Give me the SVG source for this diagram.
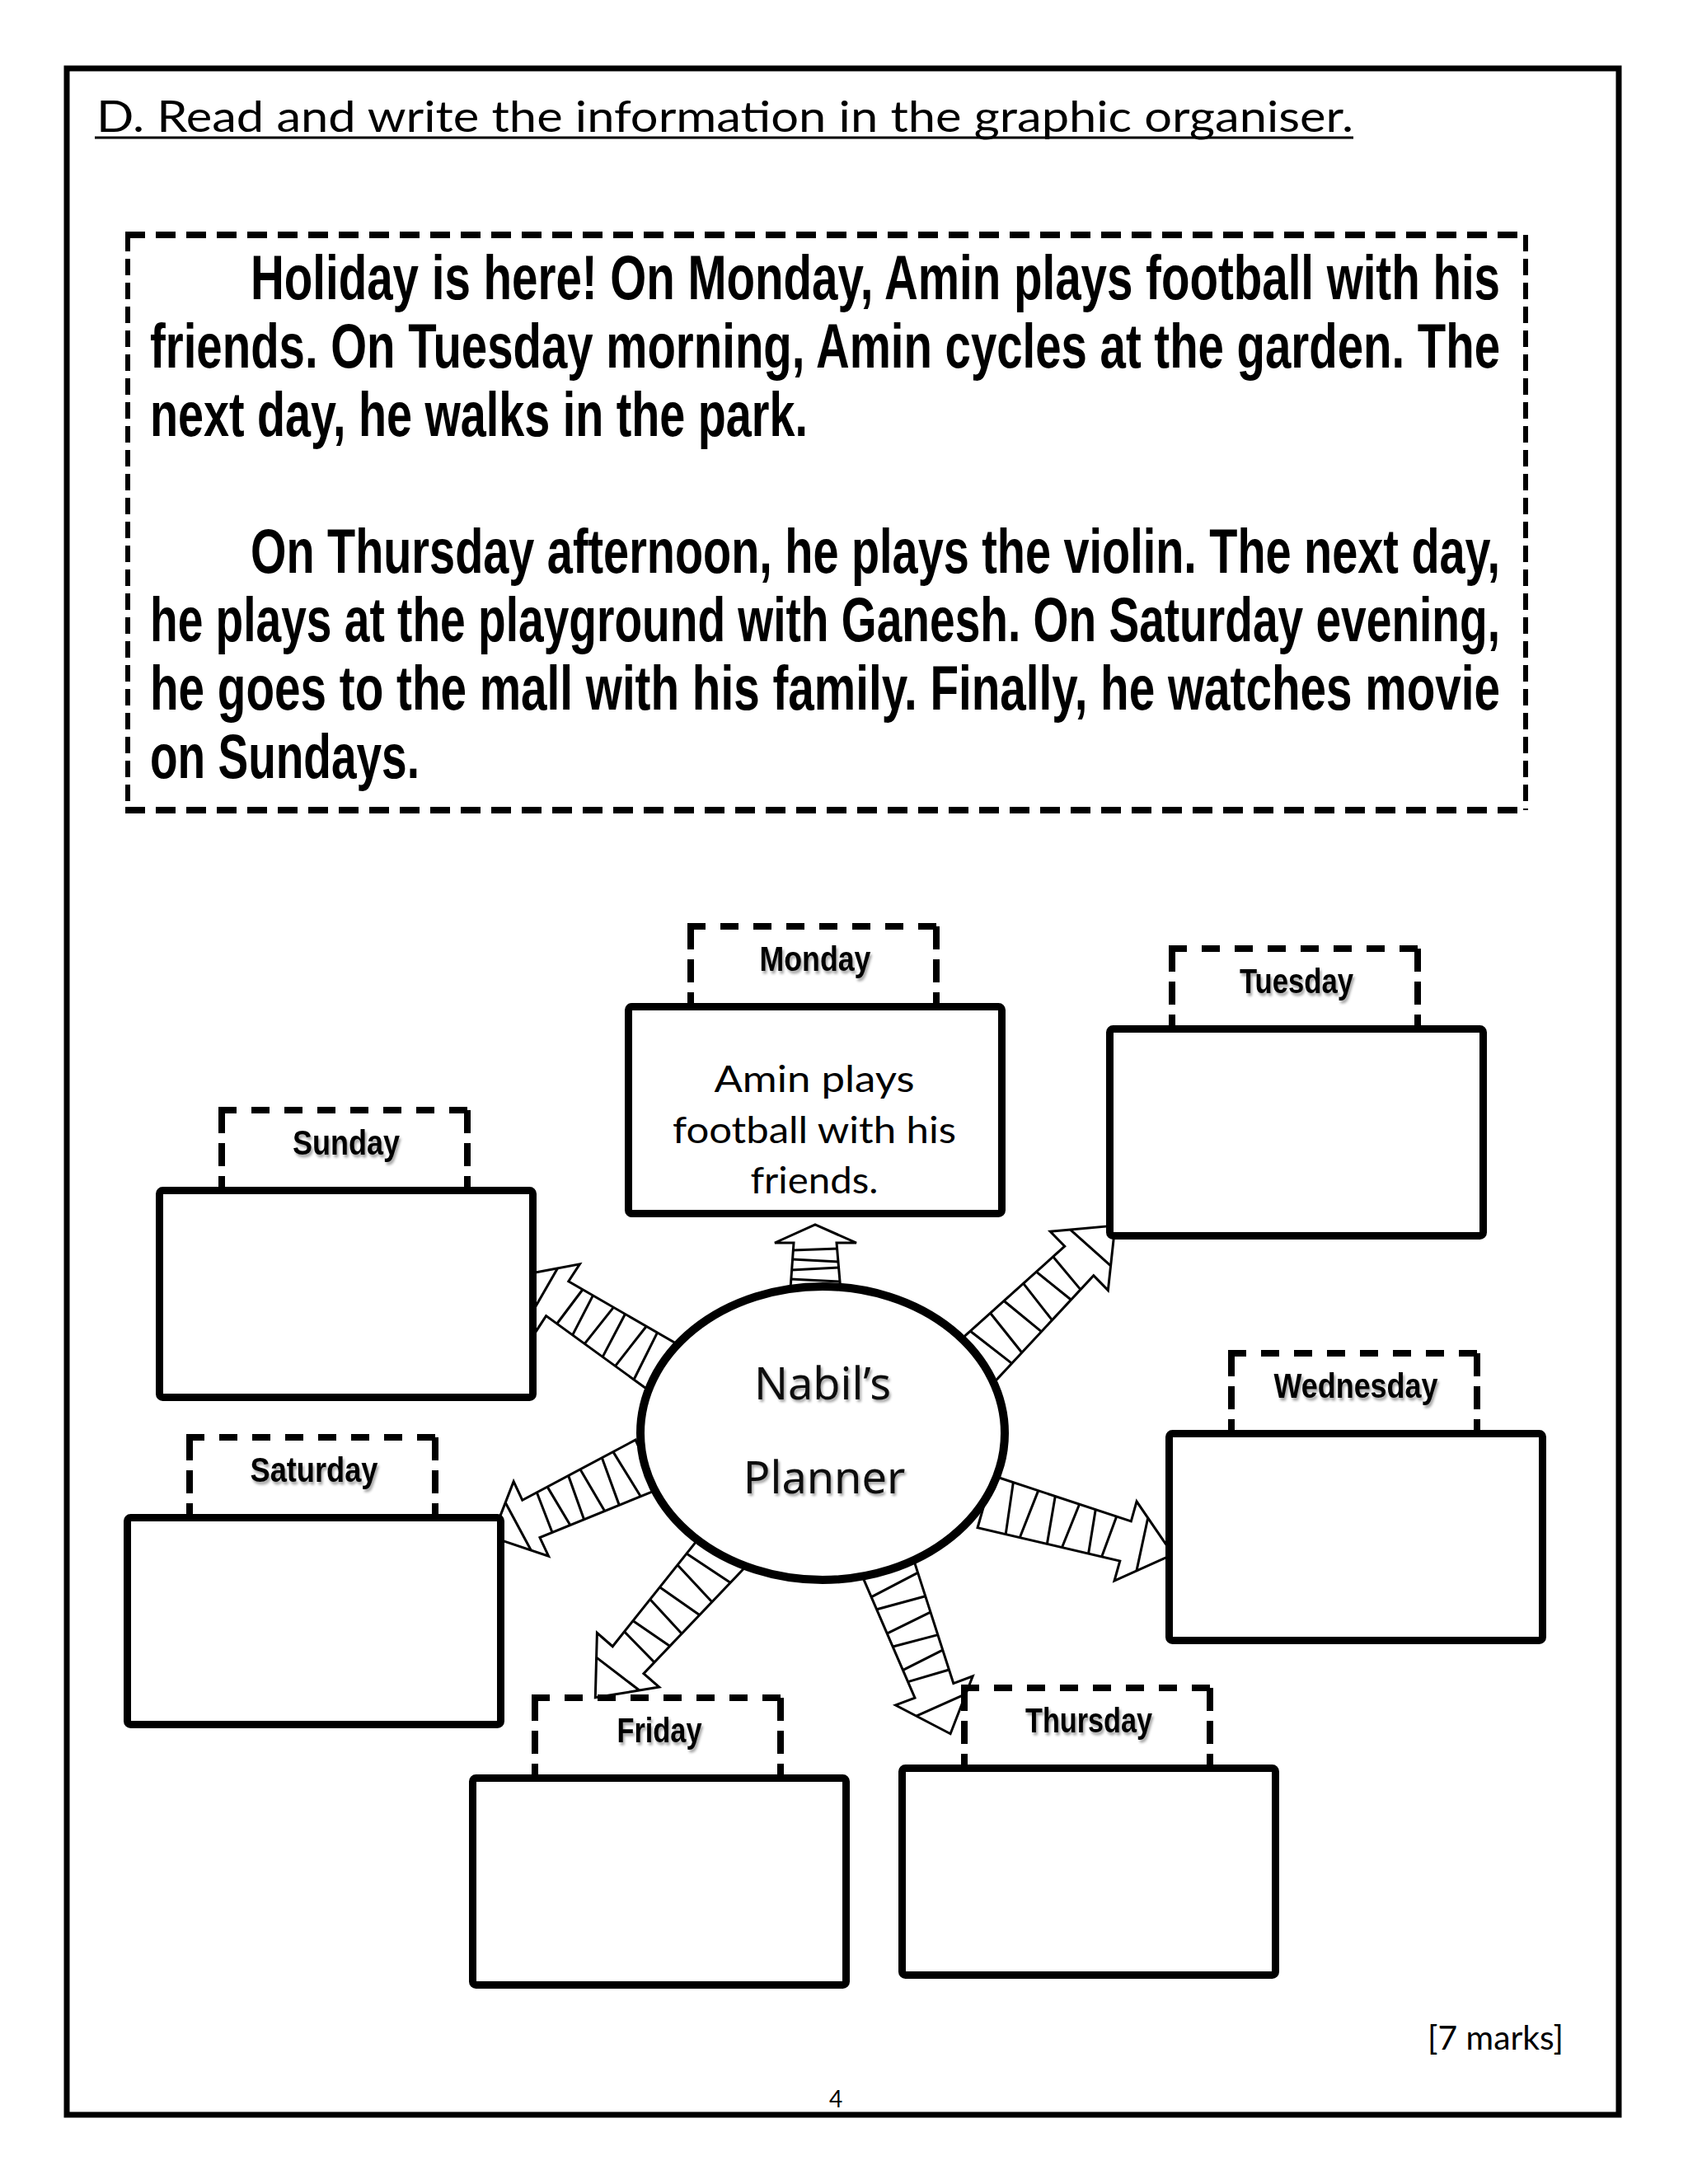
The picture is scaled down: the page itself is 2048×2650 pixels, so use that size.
<svg xmlns="http://www.w3.org/2000/svg" xmlns:xlink="http://www.w3.org/1999/xlink" width="2048" height="2650" viewBox="0 0 2048 2650">
<defs>
<style>
.para{font-family:"Liberation Sans",Arial,sans-serif;font-weight:bold;font-size:56px;fill:#000}
.goth{font-family:Lato,"Noto Sans",sans-serif;fill:#000}
.day{font-family:"Liberation Sans",Arial,sans-serif;font-weight:bold;font-size:36px;fill:#000;text-anchor:middle;filter:url(#sh)}
.ctr{font-family:"Noto Sans","Open Sans",sans-serif;font-size:54px;fill:#111;text-anchor:middle;filter:url(#sh)}
.box{fill:#fff;stroke:#000;stroke-width:9;stroke-linejoin:round}
.lt{fill:none;stroke:#000;stroke-width:8;stroke-dasharray:22 18}
.ls{fill:none;stroke:#000;stroke-width:8;stroke-dasharray:28 12}
.arr{fill:#fff;stroke:#000;stroke-width:3;stroke-linejoin:miter;vector-effect:non-scaling-stroke}
.hat{fill:none;stroke:#000;stroke-width:3;vector-effect:non-scaling-stroke}
</style>
<filter id="sh" x="-10%" y="-20%" width="130%" height="150%">
<feDropShadow dx="2" dy="3" stdDeviation="1.5" flood-color="#000" flood-opacity="0.35"/>
</filter>
<g id="arrow">
<polygon class="arr" points="0,-33 172,-25 172,-50 230,0 172,50 172,25 0,33"/>
<path class="hat" d="M26,-31.6 L34,31.6 M57,-30.4 L51,30.4 M78,-29.3 L84,29.3 M108,-28.1 L102,28.1 M128,-27 L134,27 M154,-25.9 L150,25.9 M190,-34.5 L194,31"/>
</g>
</defs>
<rect width="2048" height="2650" fill="#fff"/>
<rect x="81" y="83" width="1883" height="2483" fill="none" stroke="#000" stroke-width="7"/>

<g id="title">
<text class="goth" x="117" y="160" font-size="52" textLength="1525" lengthAdjust="spacingAndGlyphs">D. Read and write the information in the graphic organiser.</text>
<line x1="115" y1="167" x2="1642" y2="167" stroke="#000" stroke-width="3"/>
</g>

<g id="passage">
<path d="M152,285 H1854 M152,983 H1854" fill="none" stroke="#000" stroke-width="8" stroke-dasharray="24 13"/>
<path d="M155,285 V983 M1851,285 V983" fill="none" stroke="#000" stroke-width="6" stroke-dasharray="20 9"/>
<text class="para" transform="translate(304,363) scale(1,1.35)" x="0" y="0" textLength="1516" lengthAdjust="spacingAndGlyphs">Holiday is here! On Monday, Amin plays football with his</text>
<text class="para" transform="translate(182,446) scale(1,1.35)" x="0" y="0" textLength="1638" lengthAdjust="spacingAndGlyphs">friends. On Tuesday morning, Amin cycles at the garden. The</text>
<text class="para" transform="translate(182,529) scale(1,1.35)" x="0" y="0" textLength="798" lengthAdjust="spacingAndGlyphs">next day, he walks in the park.</text>
<text class="para" transform="translate(304,695) scale(1,1.35)" x="0" y="0" textLength="1516" lengthAdjust="spacingAndGlyphs">On Thursday afternoon, he plays the violin. The next day,</text>
<text class="para" transform="translate(182,778) scale(1,1.35)" x="0" y="0" textLength="1638" lengthAdjust="spacingAndGlyphs">he plays at the playground with Ganesh. On Saturday evening,</text>
<text class="para" transform="translate(182,861) scale(1,1.35)" x="0" y="0" textLength="1638" lengthAdjust="spacingAndGlyphs">he goes to the mall with his family. Finally, he watches movie</text>
<text class="para" transform="translate(182,944) scale(1,1.35)" x="0" y="0" textLength="327" lengthAdjust="spacingAndGlyphs">on Sundays.</text>
</g>

<g id="connectors">
<g id="arrow-monday">
<polygon class="arr" points="958,1578 963,1508 940,1508 989,1486 1039,1508 1015,1508 1021,1578"/>
<path class="hat" d="M962,1517 L1017,1515 M961,1528 L1018,1531 M960,1541 L1019,1538 M959,1552 L1019,1555 M958,1563 L1020,1561"/>
</g>
<use id="arrow-tuesday" xlink:href="#arrow" href="#arrow" transform="translate(1180,1657) rotate(-44.5) scale(1.054,1)"/>
<use id="arrow-wednesday" xlink:href="#arrow" href="#arrow" transform="translate(1195,1822) rotate(15.7) scale(1.03,1)"/>
<use id="arrow-thursday" xlink:href="#arrow" href="#arrow" transform="translate(1075,1896) rotate(69.4) scale(0.965,1)"/>
<use id="arrow-friday" xlink:href="#arrow" href="#arrow" transform="translate(880,1879) rotate(131.1) scale(1.043,1)"/>
<use id="arrow-saturday" xlink:href="#arrow" href="#arrow" transform="translate(785,1777) rotate(154.9) scale(0.903,1)"/>
<use id="arrow-sunday" xlink:href="#arrow" href="#arrow" transform="translate(806,1660) rotate(-147) scale(0.9,1)"/>
</g>

<g id="center">
<ellipse cx="998" cy="1739" rx="221" ry="178" fill="#fff" stroke="#000" stroke-width="10"/>
<text class="ctr" x="998" y="1698">Nabil’s</text>
<text class="ctr" x="1000" y="1812">Planner</text>
</g>

<g id="monday">
<path class="lt" d="M834,1124 H1140"/>
<path class="ls" d="M838,1124 V1217 M1136,1124 V1217"/>
<text class="day" transform="translate(989,1178) scale(1,1.17)" x="0" y="0" textLength="135" lengthAdjust="spacingAndGlyphs">Monday</text>
<rect class="box" x="762.5" y="1221.5" width="453" height="251" rx="4"/>
<text class="goth" font-size="44" text-anchor="middle" x="988" y="1325" textLength="243" lengthAdjust="spacingAndGlyphs">Amin plays</text>
<text class="goth" font-size="44" text-anchor="middle" x="988" y="1387" textLength="344" lengthAdjust="spacingAndGlyphs">football with his</text>
<text class="goth" font-size="44" text-anchor="middle" x="988" y="1448" textLength="155" lengthAdjust="spacingAndGlyphs">friends.</text>
</g>

<g id="tuesday">
<path class="lt" d="M1418,1151 H1724"/>
<path class="ls" d="M1422,1151 V1244 M1720,1151 V1244"/>
<text class="day" transform="translate(1573,1205) scale(1,1.17)" x="0" y="0" textLength="138" lengthAdjust="spacingAndGlyphs">Tuesday</text>
<rect class="box" x="1346.5" y="1248.5" width="453" height="251" rx="4"/>
</g>

<g id="sunday">
<path class="lt" d="M265,1347 H571"/>
<path class="ls" d="M269,1347 V1440 M567,1347 V1440"/>
<text class="day" transform="translate(420,1401) scale(1,1.17)" x="0" y="0" textLength="130" lengthAdjust="spacingAndGlyphs">Sunday</text>
<rect class="box" x="193.5" y="1444.5" width="453" height="251" rx="4"/>
</g>

<g id="wednesday">
<path class="lt" d="M1490,1642 H1796"/>
<path class="ls" d="M1494,1642 V1735 M1792,1642 V1735"/>
<text class="day" transform="translate(1645,1696) scale(1,1.17)" x="0" y="0" textLength="199" lengthAdjust="spacingAndGlyphs">Wednesday</text>
<rect class="box" x="1418.5" y="1739.5" width="453" height="251" rx="4"/>
</g>

<g id="saturday">
<path class="lt" d="M226,1744 H532"/>
<path class="ls" d="M230,1744 V1837 M528,1744 V1837"/>
<text class="day" transform="translate(381,1798) scale(1,1.17)" x="0" y="0" textLength="155" lengthAdjust="spacingAndGlyphs">Saturday</text>
<rect class="box" x="154.5" y="1841.5" width="453" height="251" rx="4"/>
</g>

<g id="friday">
<path class="lt" d="M645,2060 H951"/>
<path class="ls" d="M649,2060 V2153 M947,2060 V2153"/>
<text class="day" transform="translate(800,2114) scale(1,1.17)" x="0" y="0" textLength="103" lengthAdjust="spacingAndGlyphs">Friday</text>
<rect class="box" x="573.5" y="2157.5" width="453" height="251" rx="4"/>
</g>

<g id="thursday">
<path class="lt" d="M1166,2048 H1472"/>
<path class="ls" d="M1170,2048 V2141 M1468,2048 V2141"/>
<text class="day" transform="translate(1321,2102) scale(1,1.17)" x="0" y="0" textLength="154" lengthAdjust="spacingAndGlyphs">Thursday</text>
<rect class="box" x="1094.5" y="2145.5" width="453" height="251" rx="4"/>
</g>

<g id="footer">
<text class="goth" x="1732" y="2487" font-size="40" textLength="165" lengthAdjust="spacingAndGlyphs">[7 marks]</text>
<text class="goth" x="1014" y="2557" font-size="28" text-anchor="middle">4</text>
</g>
</svg>
